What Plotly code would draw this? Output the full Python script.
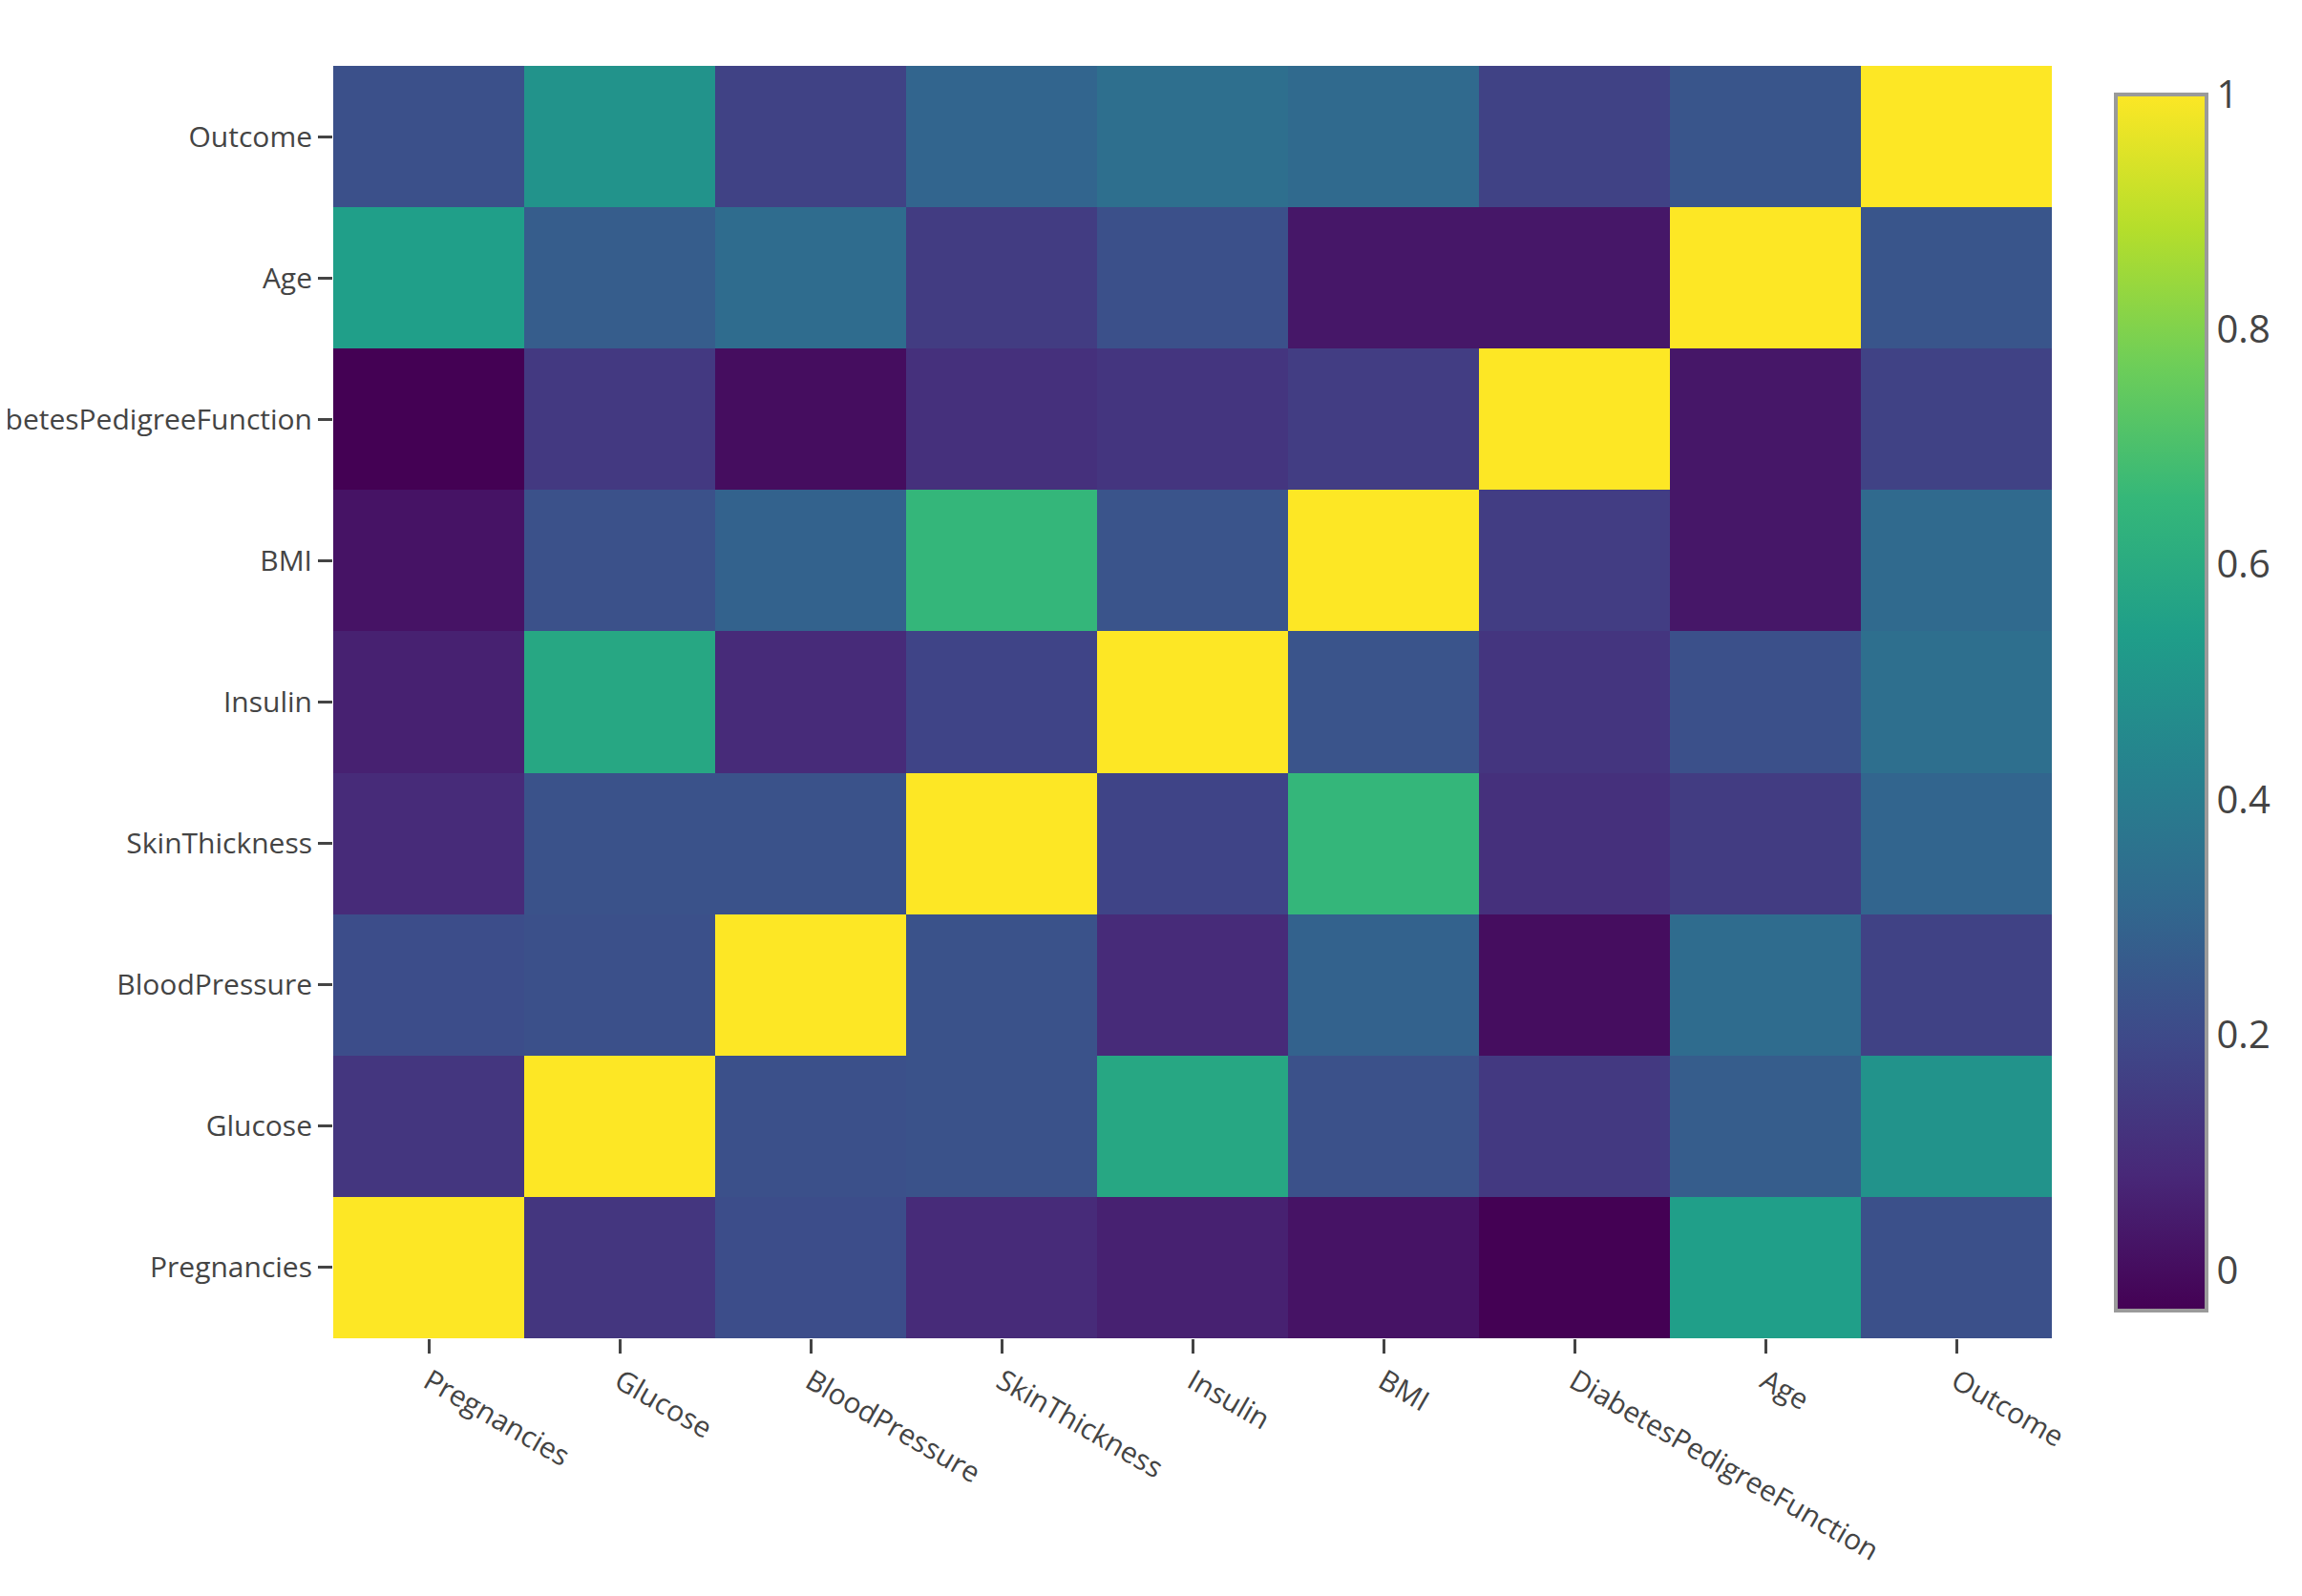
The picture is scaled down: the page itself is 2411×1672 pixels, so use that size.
import plotly.graph_objects as go

labels = ["Pregnancies", "Glucose", "BloodPressure", "SkinThickness", "Insulin",
          "BMI", "DiabetesPedigreeFunction", "Age", "Outcome"]

row_pregnancies = [1.0, 0.13, 0.21, 0.09, 0.06, 0.02, -0.034, 0.544, 0.222]
row_glucose = [0.13, 1.0, 0.22, 0.23, 0.58, 0.225, 0.14, 0.27, 0.495]
row_bloodpressure = [0.21, 0.22, 1.0, 0.23, 0.09, 0.29, 0.0, 0.33, 0.17]
row_skinthickness = [0.09, 0.23, 0.23, 1.0, 0.18, 0.65, 0.11, 0.15, 0.30]
row_insulin = [0.06, 0.58, 0.09, 0.18, 1.0, 0.235, 0.125, 0.22, 0.34]
row_bmi = [0.02, 0.225, 0.29, 0.65, 0.235, 1.0, 0.155, 0.03, 0.32]
row_dpf = [-0.034, 0.14, 0.0, 0.11, 0.125, 0.155, 1.0, 0.03, 0.17]
row_age = [0.544, 0.27, 0.33, 0.15, 0.22, 0.03, 0.03, 1.0, 0.24]
row_outcome = [0.222, 0.495, 0.17, 0.30, 0.34, 0.32, 0.17, 0.24, 1.0]

z = [row_pregnancies, row_glucose, row_bloodpressure, row_skinthickness,
     row_insulin, row_bmi, row_dpf, row_age, row_outcome]

fig = go.Figure(go.Heatmap(
    z=z, x=labels, y=labels,
    colorscale="Viridis",
    colorbar=dict(
        thickness=95, outlinewidth=4, outlinecolor="#9a9a9a",
        x=1.037, xanchor="left", xpad=0,
        y=0.5, yanchor="middle", len=0.956, ypad=0,
        tickfont=dict(size=40, color="#444", family="Open Sans"),
        ticklabelposition="outside",
    ),
))

# page body has an 8px default margin, so the figure is 8px smaller and
# its margins are shifted accordingly
fig.update_layout(
    width=2403, height=1664,
    margin=dict(l=341, r=262, t=61, b=270, autoexpand=False),
    paper_bgcolor="white", plot_bgcolor="white",
    font=dict(family="Open Sans", color="#444"),
)
fig.update_xaxes(ticks="outside", ticklen=15, tickwidth=3, tickcolor="#444",
                 tickangle=30, tickfont=dict(size=30, color="#444"),
                 showgrid=False, zeroline=False, automargin=False)
fig.update_yaxes(ticks="outside", ticklen=15, tickwidth=3, tickcolor="#444",
                 tickfont=dict(size=30, color="#444"),
                 showgrid=False, zeroline=False, automargin=False)

fig.write_html("out.html")
